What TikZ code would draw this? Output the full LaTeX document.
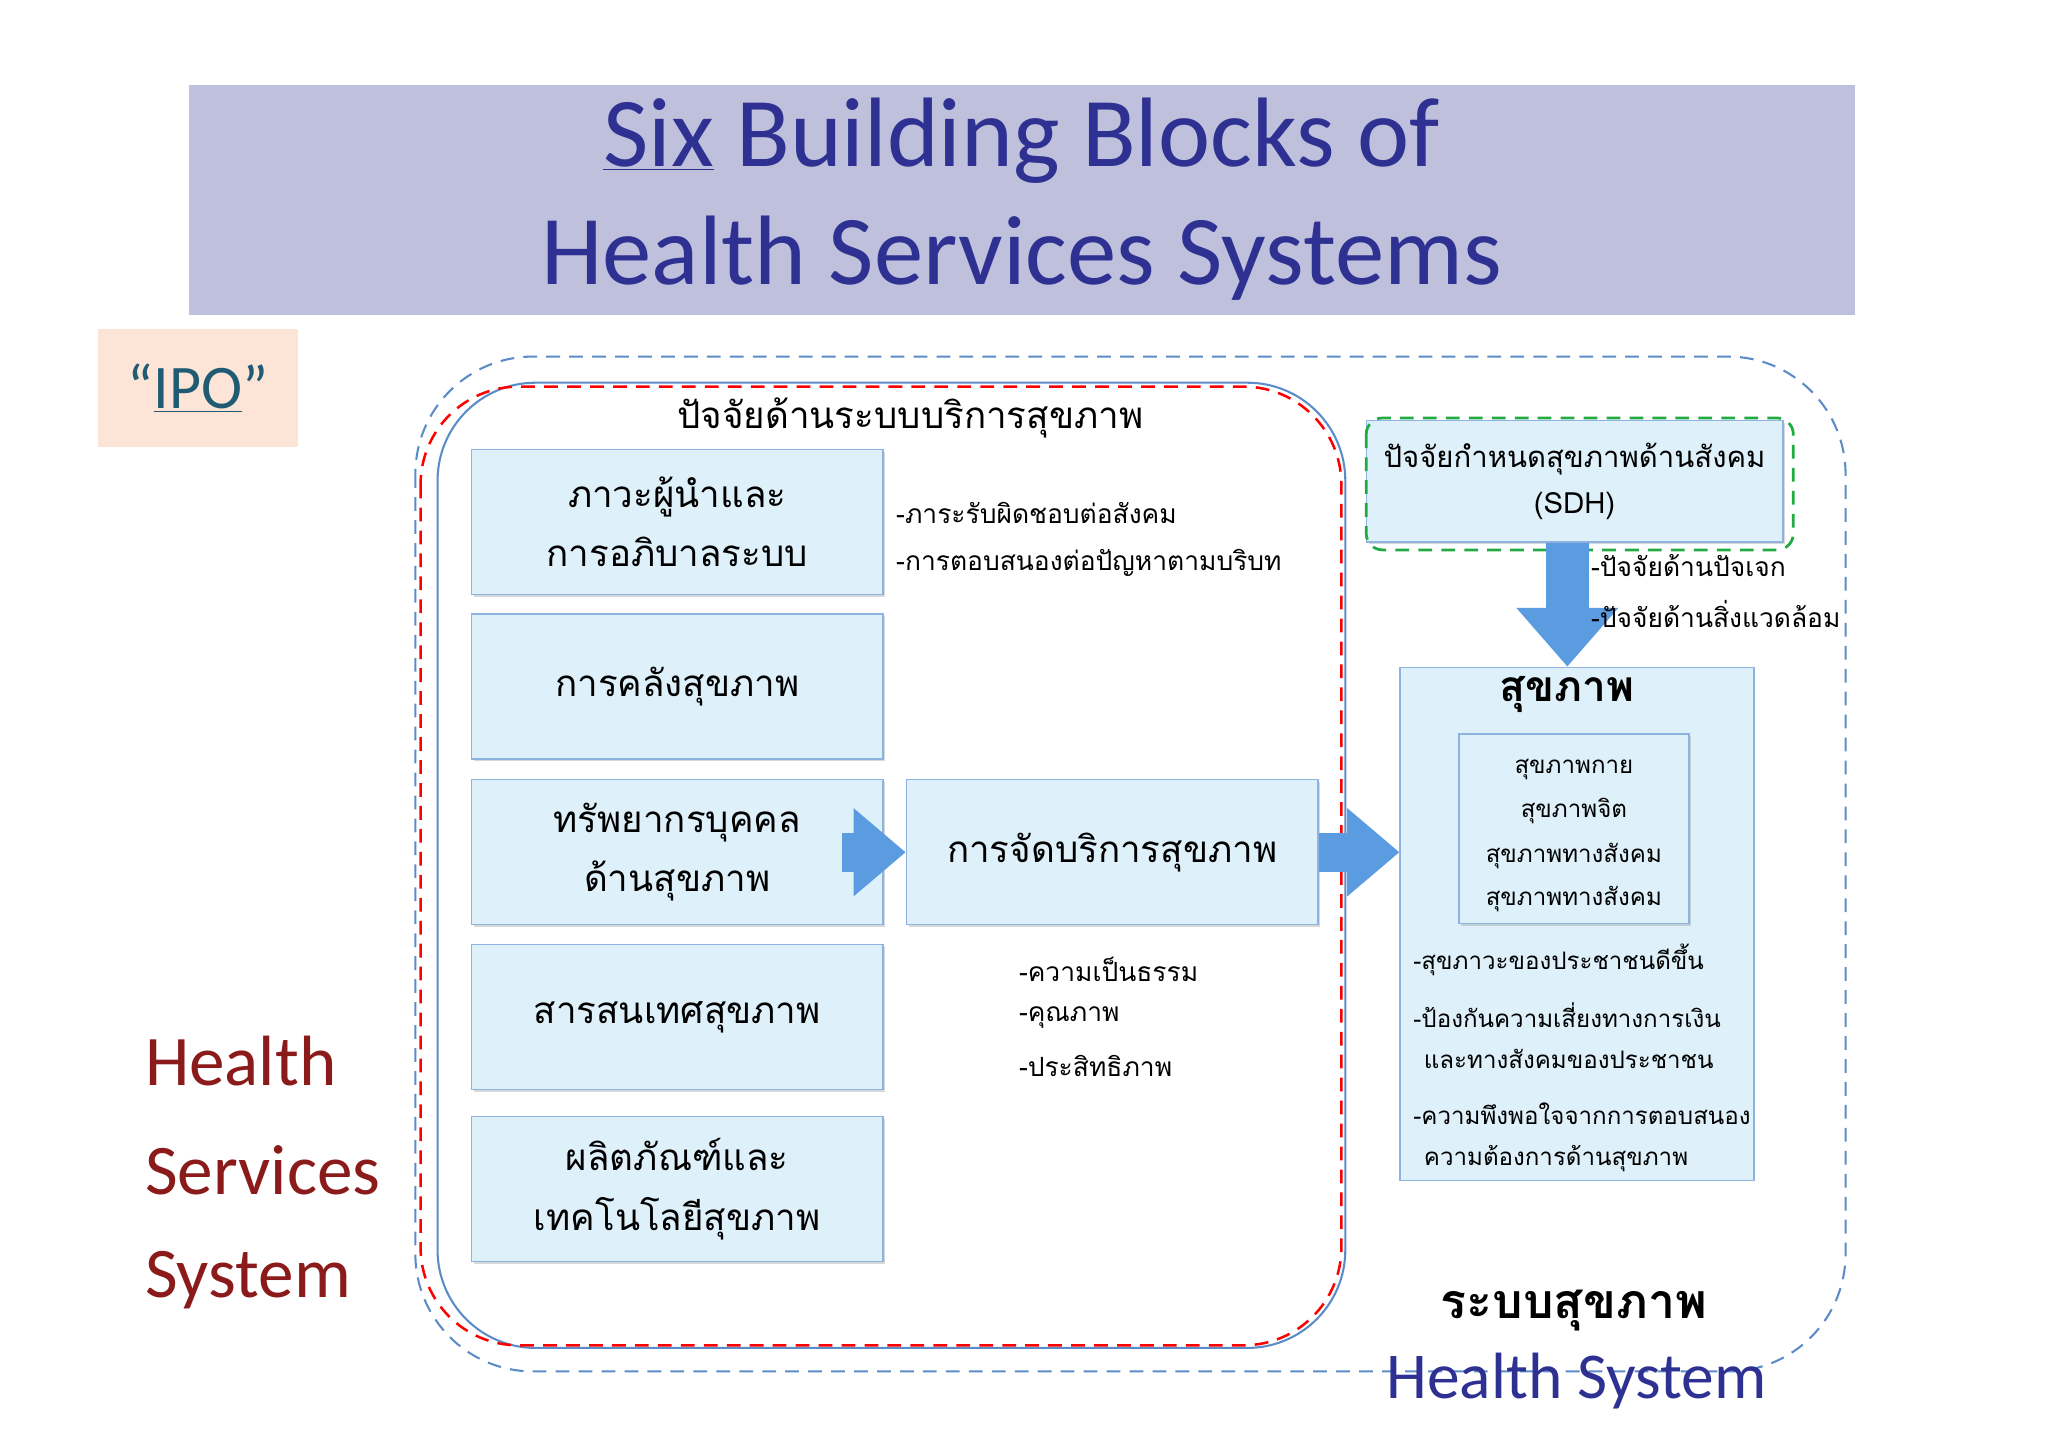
\documentclass[tikz,border=0pt]{standalone}
\usepackage{fontspec}
\setmainfont{Carlito}
\newfontfamily\thaifont[Script=Thai]{Loma}
\usetikzlibrary{arrows.meta,shadows}
\definecolor{band}{HTML}{BFC0DC}
\definecolor{ttl}{HTML}{2E3192}
\definecolor{ipob}{HTML}{FCE4D6}
\definecolor{ipot}{HTML}{1F5C73}
\definecolor{dblue}{HTML}{5B8CC8}
\definecolor{boxf}{HTML}{DEF0F9}
\definecolor{boxd}{HTML}{8DB3E2}
\definecolor{arr}{HTML}{5B9BE0}
\definecolor{hred}{HTML}{8B1A1A}
\definecolor{gdash}{HTML}{22AA44}
\begin{document}
\begin{tikzpicture}[x=0.04cm,y=-0.04cm,
  blk/.style={draw=boxd,fill=boxf,line width=1.2pt,minimum width=315*0.04cm,minimum height=111*0.04cm,align=center,font=\thaifont\fontsize{32}{52}\selectfont,drop shadow={shadow xshift=2pt,shadow yshift=-2pt,opacity=0.3}},
  note/.style={anchor=west,font=\thaifont\fontsize{23}{26}\selectfont,inner sep=0},
  rnote/.style={note,font=\thaifont\fontsize{21}{24}\selectfont},
  ln/.style={dash pattern=on 12pt off 8pt},
  fat/.style={arr,line width=1.2cm,-{Triangle[length=1.6cm,width=2.6cm]}}]
\useasboundingbox (0,0) rectangle (1568,1107);
\fill[white] (0,0) rectangle (1568,1107);
% title
\node[fill=band,minimum width=1275*0.04cm,minimum height=176*0.04cm,inner sep=0] (band) at (782.5,153) {};
\node[text=ttl,font=\fontsize{86}{90}\selectfont] (t1) at (782,108) {\underline{Six} Building Blocks of};
\node[text=ttl,font=\fontsize{86}{90}\selectfont] (t2) at (782,198) {Health Services Systems};
\node[fill=ipob,minimum width=153*0.04cm,minimum height=90*0.04cm,text=ipot,font=\fontsize{54}{58}\selectfont] (ipo) at (151.5,297) {“\underline{IPO}”};
% containers
\draw[dblue,ln,line width=1.8pt,rounded corners=3.6cm] (318,273) rectangle (1413,1050);
\draw[dblue,line width=1.8pt,rounded corners=3cm] (335,293) rectangle (1030,1032);
\draw[red,ln,line width=2.2pt,rounded corners=3cm] (322,296) rectangle (1027,1030);
\node[font=\thaifont\fontsize{32}{36}\selectfont] (hst) at (697,320) {ปัจจัยด้านระบบบริการสุขภาพ};
% blocks
\node[blk] (b1) at (518.5,399.5) {ภาวะผู้นำและ\\การอภิบาลระบบ};
\node[blk] (b2) at (518.5,525.5) {การคลังสุขภาพ};
\node[blk] (b3) at (518.5,652.5) {ทรัพยากรบุคคล\\ด้านสุขภาพ};
\node[blk] (b4) at (518.5,778.5) {สารสนเทศสุขภาพ};
\node[blk] (b5) at (518.5,910.5) {ผลิตภัณฑ์และ\\เทคโนโลยีสุขภาพ};
\node[blk] (svc) at (851.5,652.5) {การจัดบริการสุขภาพ};
\node[note] (n1) at (686,393) {-ภาระรับผิดชอบต่อสังคม};
\node[note] (n2) at (686,431) {-การตอบสนองต่อปัญหาตามบริบท};
\node[note] (n3) at (780,742) {-ความเป็นธรรม};
\node[note] (n4) at (780,779) {-คุณภาพ};
\node[note] (n5) at (780,816) {-ประสิทธิภาพ};
% SDH
\node[blk,minimum width=319*0.04cm,minimum height=93*0.04cm,font=\thaifont\fontsize{25.5}{40}\selectfont] (sdh) at (1205.5,368.5) {ปัจจัยกำหนดสุขภาพด้านสังคม\\(SDH)};
\draw[gdash,ln,line width=2.4pt,rounded corners=0.5cm] (1046,320) rectangle (1373,421);
% health box
\node[draw=boxd,fill=boxf,line width=1.2pt,minimum width=271*0.04cm,minimum height=393*0.04cm] (hb) at (1207.5,707.5) {};
% arrows
\draw[fat] (b3.east)++(-32,0) -- (svc.west);
\draw[fat] (svc.east) -- (svc.east-|hb.west);
\draw[fat,line width=1.3cm,-{Triangle[length=1.8cm,width=3cm]}] (sdh.south-|1200,0) -- (hb.north-|1200,0);
\node[note] (n6) at (1218,433) {-ปัจจัยด้านปัจเจก};
\node[note] (n7) at (1218,470) {-ปัจจัยด้านสิ่งแวดล้อม};
\node[font=\thaifont\bfseries\fontsize{37}{40}\selectfont] (hbt) at (1200,532) {สุขภาพ};
\node[draw=boxd,fill=boxf,line width=1.2pt,minimum width=176*0.04cm,minimum height=145*0.04cm,drop shadow={shadow xshift=2pt,shadow yshift=-2pt,opacity=0.3}] (inb) at (1205,634.5) {};
\node[font=\thaifont\fontsize{21}{24}\selectfont] at (1205,589) {สุขภาพกาย};
\node[font=\thaifont\fontsize{21}{24}\selectfont] at (1205,621) {สุขภาพจิต};
\node[font=\thaifont\fontsize{21}{24}\selectfont] at (1205,655) {สุขภาพทางสังคม};
\node[font=\thaifont\fontsize{21}{24}\selectfont] at (1205,688) {สุขภาพทางสังคม};
\node[rnote] (m1) at (1082,735) {-สุขภาวะของประชาชนดีขึ้น};
\node[rnote] (m2) at (1082,777) {-ป้องกันความเสี่ยงทางการเงิน};
\node[rnote] (m3) at (1090,811) {และทางสังคมของประชาชน};
\node[rnote] (m4) at (1082,853) {-ความพึงพอใจจากการตอบสนอง};
\node[rnote] (m5) at (1090,887) {ความต้องการด้านสุขภาพ};
% labels
\node[anchor=west,text=hred,font=\fontsize{62}{66}\selectfont] (l1) at (108,812) {Health};
\node[anchor=west,text=hred,font=\fontsize{62}{66}\selectfont] (l2) at (108,896) {Services};
\node[anchor=west,text=hred,font=\fontsize{62}{66}\selectfont] (l3) at (108,980) {System};
\node[font=\thaifont\bfseries\fontsize{42}{46}\selectfont] (rs) at (1205,1003) {ระบบสุขภาพ};
\node[text=ttl,font=\fontsize{57}{60}\selectfont] (hs) at (1207,1057) {Health System};
\end{tikzpicture}
\end{document}
